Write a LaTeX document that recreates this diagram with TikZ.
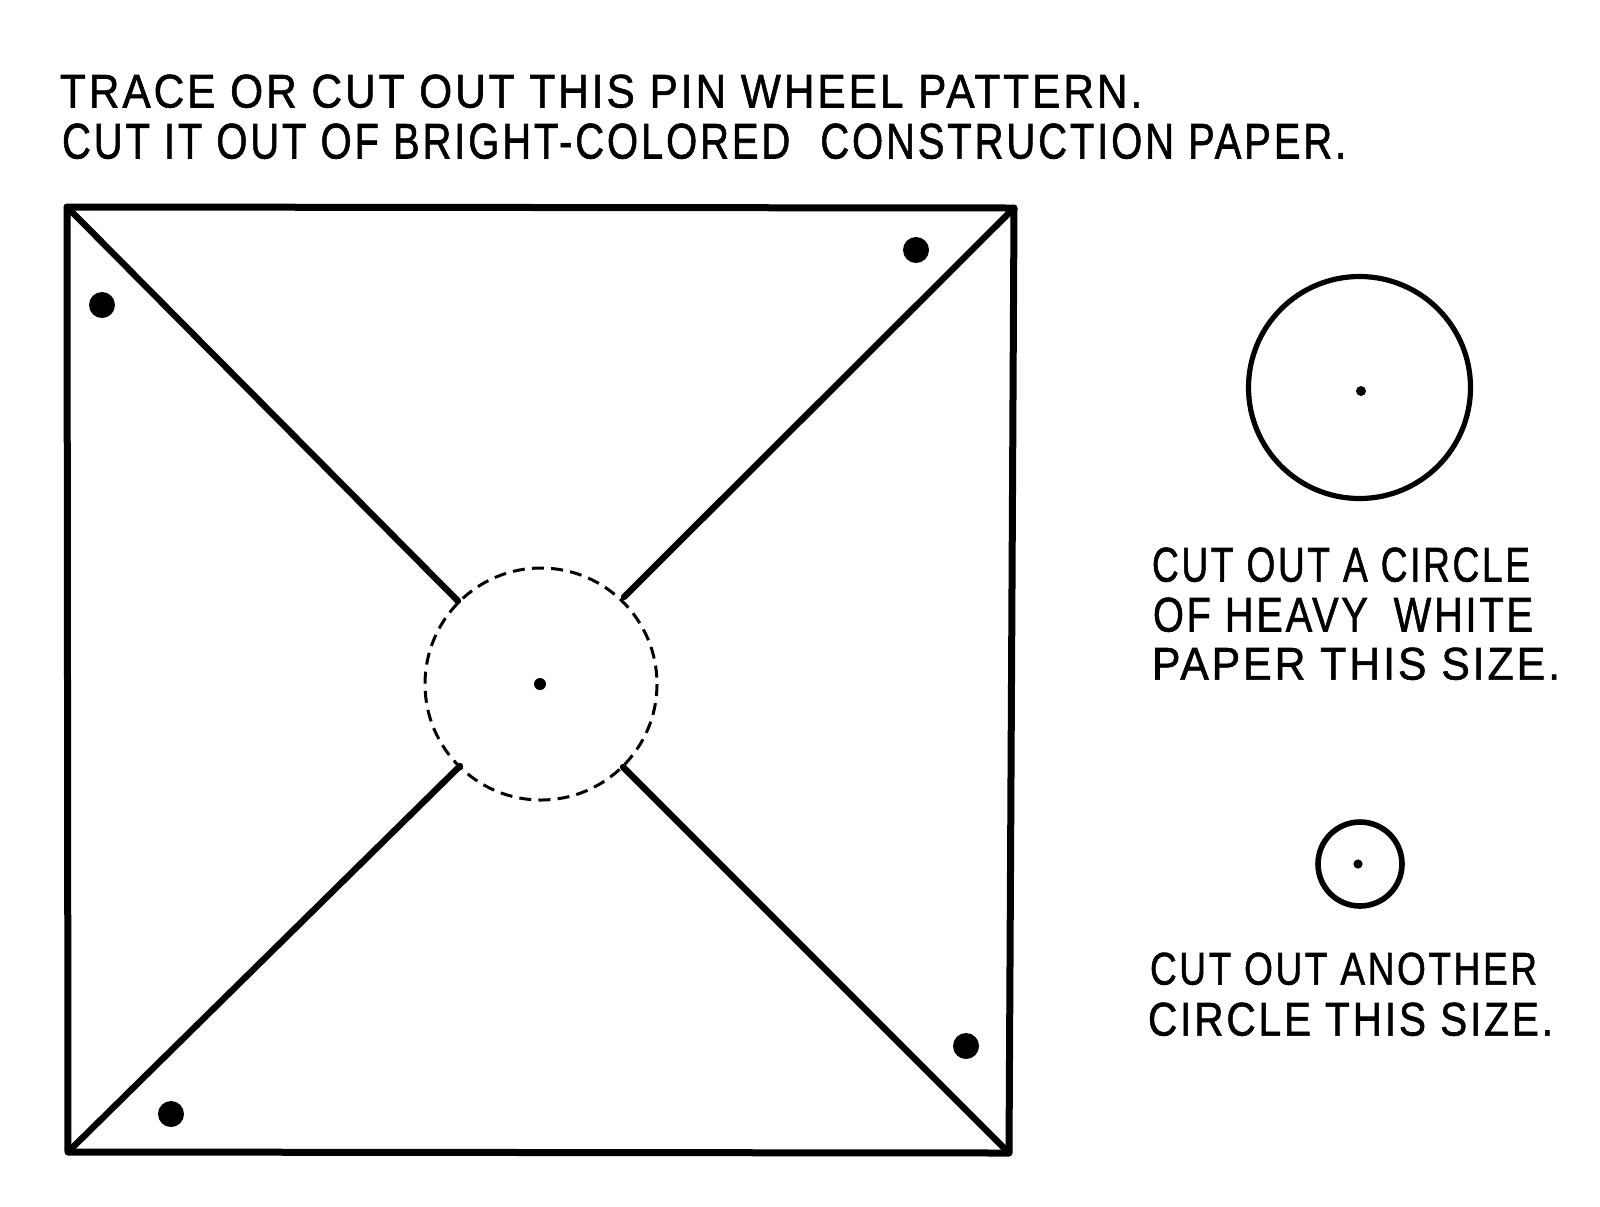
\documentclass[tikz,border=0pt]{standalone}
\usepackage{fontspec}
\setmainfont{Liberation Sans}
\newfontfamily\handfont[FakeBold=1.3,LetterSpace=7]{Liberation Sans}
\usepackage{graphicx}
\newcommand{\fitline}[3]{\resizebox{#1pt}{#2pt}{\handfont #3}}
\begin{document}
\begin{tikzpicture}[x=0.5pt,y=-0.5pt,
  edge/.style={line width=3.5pt,line cap=round,line join=round},
  diag/.style={line width=3.2pt,line cap=round},
  foldline/.style={line width=1.5pt,dash pattern=on 6pt off 3.6pt},
  ring/.style={line width=2.6pt},
  pin/.style={circle,fill=black,inner sep=0pt,minimum size=#1},
  lettering/.style={anchor=south west,inner sep=0pt,outer sep=0pt}]
\path[use as bounding box,fill=white] (0,0) rectangle (1600,1206);

% title
\node[lettering] (t1) at (60,108) {\fitline{541}{16.5}{TRACE OR CUT OUT THIS PIN WHEEL PATTERN.}};
\node[lettering] (t2) at (62,159) {\fitline{642}{17.5}{CUT IT OUT OF BRIGHT-COLORED\hspace{0.4em} CONSTRUCTION PAPER.}};

% square
\coordinate (tl) at (67,207);
\coordinate (tr) at (1014,208);
\coordinate (br) at (1009,1153);
\coordinate (bl) at (68,1152);
\draw[edge] (tl) -- (tr) -- (br) -- (bl) -- cycle;

% centre
\coordinate (c) at (541,684);
\draw[foldline] (c) circle[radius=116];
\node[pin=6pt] (cdot) at (540,684) {};

% diagonal cuts
\coordinate (e1) at (458,601);
\coordinate (e2) at (624,597);
\coordinate (e3) at (460,766);
\coordinate (e4) at (623,767);
\draw[diag] (tl) -- (e1);
\draw[diag] (tr) -- (e2);
\draw[diag] (bl) -- (e3);
\draw[diag] (br) -- (e4);

% pin holes
\node[pin=13pt] (d1) at (102,305) {};
\node[pin=13pt] (d2) at (916,250) {};
\node[pin=13pt] (d3) at (966,1046) {};
\node[pin=13pt] (d4) at (171,1114) {};

% large circle
\coordinate (bc) at (1359.5,387.5);
\draw[ring] (bc) circle[radius=111];
\node[pin=5pt] (bdot) at (1361,391) {};

\node[lettering] (r1) at (1152,582) {\fitline{189}{17}{CUT OUT A CIRCLE}};
\node[lettering] (r2) at (1153,632) {\fitline{190}{17}{OF HEAVY\hspace{0.3em} WHITE}};
\node[lettering] (r3) at (1152,680) {\fitline{204}{16}{PAPER THIS SIZE.}};

% small circle
\coordinate (sc) at (1360,864);
\draw[ring,line width=2.8pt] (sc) circle[radius=42];
\node[pin=4.6pt] (sdot) at (1358,864) {};

\node[lettering] (r4) at (1150,985) {\fitline{193.5}{16}{CUT OUT ANOTHER}};
\node[lettering] (r5) at (1148,1036) {\fitline{202.5}{16.5}{CIRCLE THIS SIZE.}};
\end{tikzpicture}
\end{document}
